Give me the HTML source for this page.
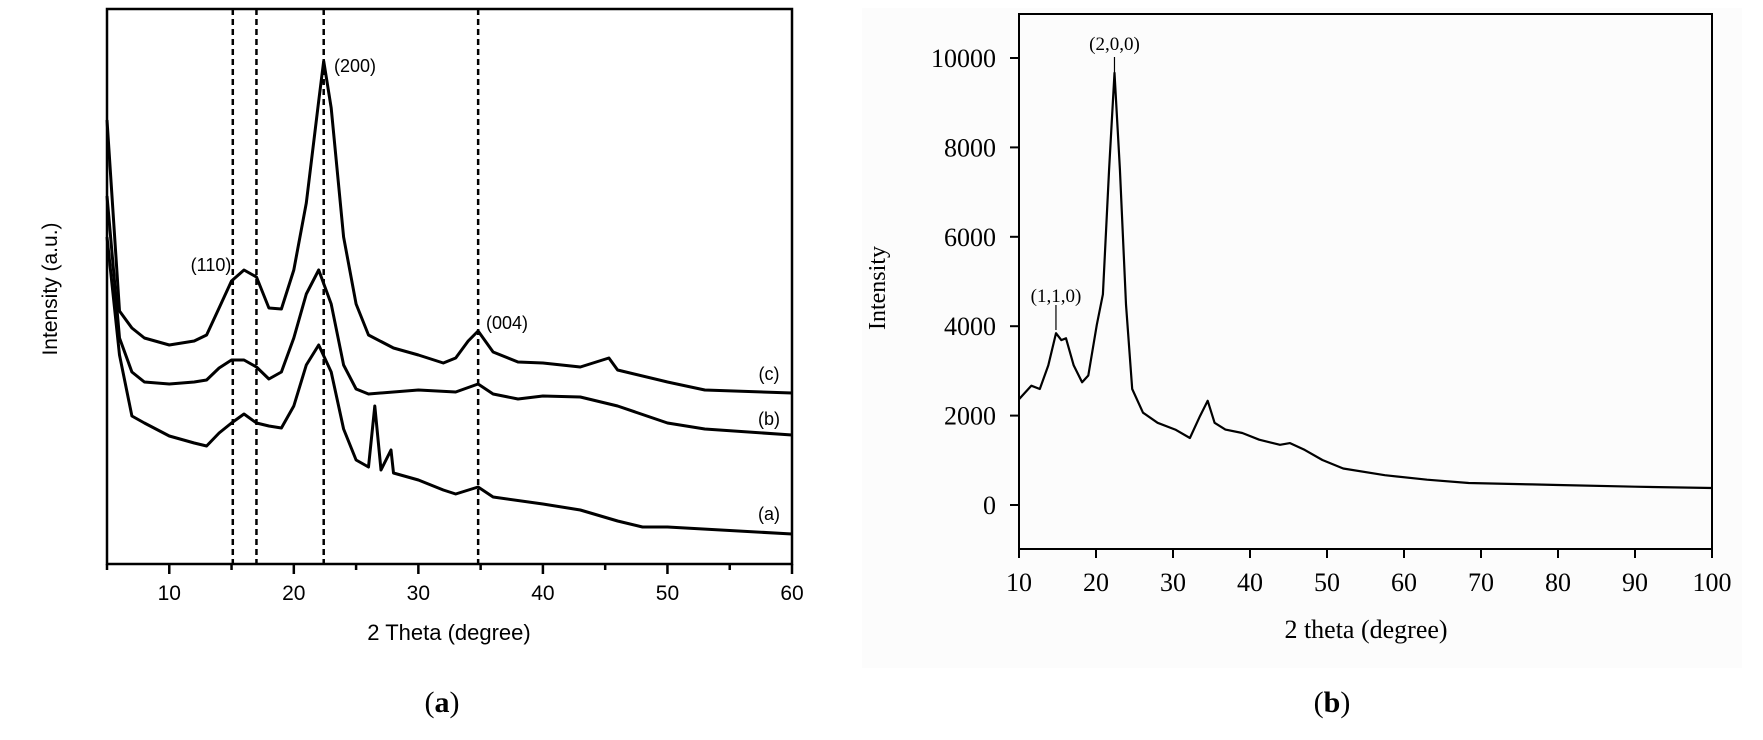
<!DOCTYPE html>
<html><head><meta charset="utf-8">
<style>
html,body{margin:0;padding:0;background:#fff;}
svg{display:block;}
.sans{font-family:"Liberation Sans",Arial,sans-serif;}
.serif{font-family:"Liberation Serif","Times New Roman",serif;}
</style></head>
<body>
<svg id="chart" width="1763" height="740" viewBox="0 0 1763 740" xmlns="http://www.w3.org/2000/svg">
<rect x="0" y="0" width="1763" height="740" fill="#fff"/>
<g id="left"></g>
<g id="right"></g>
<text class="serif" x="442" y="712" font-size="30" text-anchor="middle">(<tspan font-weight="bold">a</tspan>)</text>
<text class="serif" x="1332" y="712" font-size="30" text-anchor="middle">(<tspan font-weight="bold">b</tspan>)</text>
</svg>
<script>
// ---------- Panel (a) data ----------
const aX = [5,6,7,8,10,12,13,14,15,16,17,18,19,20,21,22,22.4,23,24,25,26,28,30,32,33,34,34.8,36,38,40,43,45.3,46,50,53,60];
const cVals = [444,253,236,226,219,223,229,256,283,294,287,256,255,294,361,463,503,456,327,260,229,216,209,201,206,223,233,212,202,201,197,206,194,182,174,171];
const bX = [5,6,7,8,10,12,13,14,15,16,17,18,19,20,21,22,23,24,25,26,30,33,34.8,36,38,40,43,46,50,53,60];
const bVals = [368,226,192,182,180,182,184,196,204,204,197,185,192,226,270,294,260,199,175,170,174,172,180,170,165,168,167,158,141,135,129];
const aSerX = [5,6,7,8,10,12,13,14,15,16,17,18,19,20,21,22,23,24,25,26,26.5,27,27.8,28,30,32,33,34.8,36,40,43,46,48,50,60];
const aVals = [327,209,148,141,128,121,118,131,141,150,141,138,136,158,199,219,192,135,104,97,158,94,114,91,84,74,70,77,67,60,54,43,37,37,30];
const aTicks = [10,20,30,40,50,60];
const dashLines = [15.1,17.0,22.4,34.8];

// ---------- Panel (b) data ----------
const rX = [10,11.6,12.7,13.8,14.8,15.5,16.1,17.1,18.2,19,20.1,20.9,21.7,22.4,23.1,23.9,24.7,26.1,28,30.3,32.2,33.5,34.5,35.4,36.8,39,41.2,43.9,45.2,47.1,49.4,52.1,57.5,63,68.4,76.6,80,90,100];
const rY = [2368,2670,2595,3124,3843,3690,3730,3124,2746,2897,4032,4713,7511,9667,7511,4486,2595,2065,1838,1687,1498,1989,2330,1838,1687,1611,1460,1346,1384,1233,1006,817,666,567,492,461,447,410,380];
const rXTicks = [10,20,30,40,50,60,70,80,90,100];
const rYTicks = [0,2000,4000,6000,8000,10000];

const NS = "http://www.w3.org/2000/svg";
function mk(parent, tag, attrs, text){
  const e = document.createElementNS(NS, tag);
  for (const k in attrs) e.setAttribute(k, attrs[k]);
  if (text !== undefined) e.textContent = text;
  parent.appendChild(e);
  return e;
}

// ----- panel a -----
const L = document.getElementById('left');
const aL = 107, aR = 792, aT = 9, aB = 564;
const axA = v => aL + (v - 5) * (aR - aL) / 55;
const ayA = v => aB - v;
let fr = mk(L,'rect',{x:aL,y:aT,width:aR-aL,height:aB-aT,fill:'none',stroke:'#000','stroke-width':2.5});


for (let t = 5; t <= 60; t += 5) {
  const major = aTicks.indexOf(t) >= 0;
  const tk = mk(L,'line',{x1:axA(t),x2:axA(t),y1:aB,y2:aB+(major?10:6),stroke:'#000','stroke-width':2.5});
  
  
}
aTicks.forEach(t => {
  const lb = mk(L,'text',{x:axA(t),y:600,'font-size':21,'text-anchor':'middle',class:'sans'},String(t));
  
  
});
dashLines.forEach(d => {
  const dl = mk(L,'line',{x1:axA(d),x2:axA(d),y1:aT,y2:aB,stroke:'#000','stroke-width':2.5,'stroke-dasharray':'6,4'});
  
  
});
function poly(parent, xs, ys, fx, fy, name, w){
  const pts = xs.map((x,i)=> fx(x).toFixed(1)+','+fy(ys[i]).toFixed(1)).join(' ');
  const p = mk(parent,'polyline',{points:pts,fill:'none',stroke:'#000','stroke-width':w,'stroke-linejoin':'round'});
  
  
}
poly(L, aX, cVals, axA, ayA, 'series-c', 3);
poly(L, bX, bVals, axA, ayA, 'series-b', 3);
poly(L, aSerX, aVals, axA, ayA, 'series-a', 3);
[['(c)',769,380],['(b)',769,425],['(a)',769,520],['(200)',355,72],['(110)',211,271],['(004)',507,329]].forEach(s=>{
  const t = mk(L,'text',{x:s[1],y:s[2],'font-size':18,'text-anchor':'middle',class:'sans'},s[0]);
  
  
});
let yl = mk(L,'text',{x:0,y:0,'font-size':21,'text-anchor':'middle',class:'sans',transform:'translate(57,289) rotate(-90)'},'Intensity (a.u.)');


let xl = mk(L,'text',{x:449,y:640,'font-size':22,'text-anchor':'middle',class:'sans'},'2 Theta (degree)');



// ----- panel b -----
const R = document.getElementById('right');
const bL = 1019, bR = 1712, bT = 14, bB = 549;
const axB = v => bL + (v - 10) * (bR - bL) / 90;
const ayB = v => 505 - v * 0.0447;
let bg = mk(R,'rect',{x:862,y:8,width:880,height:660,fill:'#fcfcfc'});


let fr2 = mk(R,'rect',{x:bL,y:bT,width:bR-bL,height:bB-bT,fill:'none',stroke:'#000','stroke-width':2});


rXTicks.forEach(t => {
  const tk = mk(R,'line',{x1:axB(t),x2:axB(t),y1:bB,y2:bB+9,stroke:'#000','stroke-width':2});
  
  
  const lb = mk(R,'text',{x:axB(t),y:591,'font-size':26,'text-anchor':'middle',class:'serif'},String(t));
  
  
});
rYTicks.forEach(t => {
  const tk = mk(R,'line',{x1:bL-9,x2:bL,y1:ayB(t),y2:ayB(t),stroke:'#000','stroke-width':2});
  
  
  const lb = mk(R,'text',{x:996,y:ayB(t)+9,'font-size':26,'text-anchor':'end',class:'serif'},String(t));
  
  
});
poly(R, rX, rY, axB, ayB, 'intensity-line', 2.2);
let t1 = mk(R,'line',{x1:axB(22.4),x2:axB(22.4),y1:57,y2:72,stroke:'#000','stroke-width':1.2});


let t2 = mk(R,'line',{x1:axB(14.8),x2:axB(14.8),y1:305,y2:330,stroke:'#000','stroke-width':1.2});


let p1 = mk(R,'text',{x:axB(22.4),y:50,'font-size':19,'text-anchor':'middle',class:'serif'},'(2,0,0)');


let p2 = mk(R,'text',{x:axB(14.8),y:302,'font-size':19,'text-anchor':'middle',class:'serif'},'(1,1,0)');


let yl2 = mk(R,'text',{x:0,y:0,'font-size':24,'text-anchor':'middle',class:'serif',transform:'translate(885,288) rotate(-90)'},'Intensity');


let xl2 = mk(R,'text',{x:1366,y:638,'font-size':26,'text-anchor':'middle',class:'serif'},'2 theta (degree)');


</script>
</body></html>
